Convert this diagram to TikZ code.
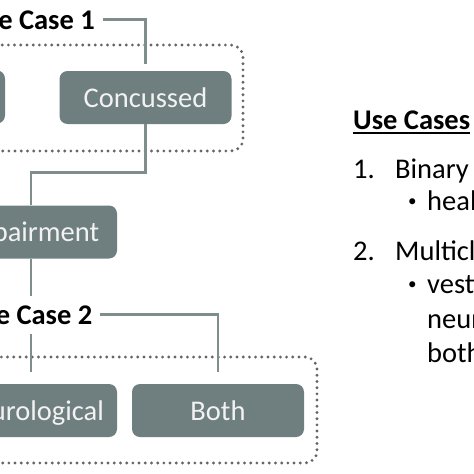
\documentclass[tikz,border=0pt]{standalone}
\usepackage{fontspec}
\setmainfont{Carlito}
\usepackage{xcolor}
\usepackage{tikz}

\definecolor{boxgray}{HTML}{6F7F7F}
\definecolor{linegray}{HTML}{7F8D8D}
\definecolor{dotgray}{HTML}{666666}
\newcommand{\diagfont}{\fontsize{28.5}{34}\selectfont}
\newcommand{\smallbul}{\raisebox{4pt}{\fontsize{17}{17}\selectfont\textbullet}}

\tikzset{
    classbox/.style={fill=boxgray, text=white!95!black, rounded corners=8pt, minimum width=172pt, minimum height=53pt, text height=19pt, text depth=0pt, inner sep=0pt},
    caselabel/.style={font=\diagfont\bfseries, fill=white, inner xsep=7.5pt, inner ysep=9.5pt, anchor=base east},
    link/.style={draw=linegray, line width=2.8pt},
    group/.style={draw=dotgray, line width=3.2pt, dash pattern=on 0pt off 6.2pt, line cap=round, rounded corners=12pt},
    listtext/.style={inner sep=0pt, anchor=base west}
}

\begin{document}
\begin{tikzpicture}[x=1pt, y=-1pt, font=\diagfont]
        \useasboundingbox (0,0) rectangle (474,474);
        \clip (0,0) rectangle (474,474);
        % groups of classes
        \draw[group] (-200,45) rectangle (243,151);
        \draw[group] (-200,357) rectangle (317,463);
        % classes
        \node[classbox] (healthy) at (-81,97) {};
        \node[classbox] (concussed) at (145.5,97.5) {Concussed};
        \node[classbox] (impairment) at (31,232) {Impairment};
        \node[classbox] (neuro) at (31,410.5) {Neurological};
        \node[classbox] (both) at (218,410.5) {Both};
        % links
        \coordinate (neurotip) at ([yshift=12pt]neuro.north);
        \draw[link] (concussed.south) -- ++(0,48) -| (impairment.north);
        \draw[link] (impairment.south) -- (neurotip);
        % use case labels
        \node[caselabel] (case1) at (102.5,29) {Use Case 1};
        \node[caselabel] (case2) at (100,324) {Use Case 2};
        \coordinate (case1tip) at ([yshift=7pt]concussed.north);
        \coordinate (case2tip) at ([yshift=12pt]both.north);
        \draw[link] (case1.east) -| (case1tip);
        \draw[link] (case2.east) -| (case2tip);
        % legend
        \node[listtext, font=\diagfont\bfseries] (uchead) at (353,129) {Use Cases};
        \draw[line width=1.8pt] ([yshift=-4pt]uchead.base west) -- ([yshift=-4pt]uchead.base east);
        \node[listtext] (num1) at (353,178) {1.};
        \node[listtext] (binary) at (395,178) {Binary};
        \node[listtext] (bul1) at (408,210) {\smallbul};
        \node[listtext] (healthytxt) at (427,210) {healthy};
        \node[listtext] (num2) at (353,260) {2.};
        \node[listtext] (multi) at (395,260) {Multiclass};
        \node[listtext] (bul2) at (408,293) {\smallbul};
        \node[listtext] (vesttxt) at (427,293) {vestibular,};
        \node[listtext] (neurotxt) at (427,328) {neurological,};
        \node[listtext] (bothtxt) at (427,362) {both};
    \end{tikzpicture}
\end{document}
